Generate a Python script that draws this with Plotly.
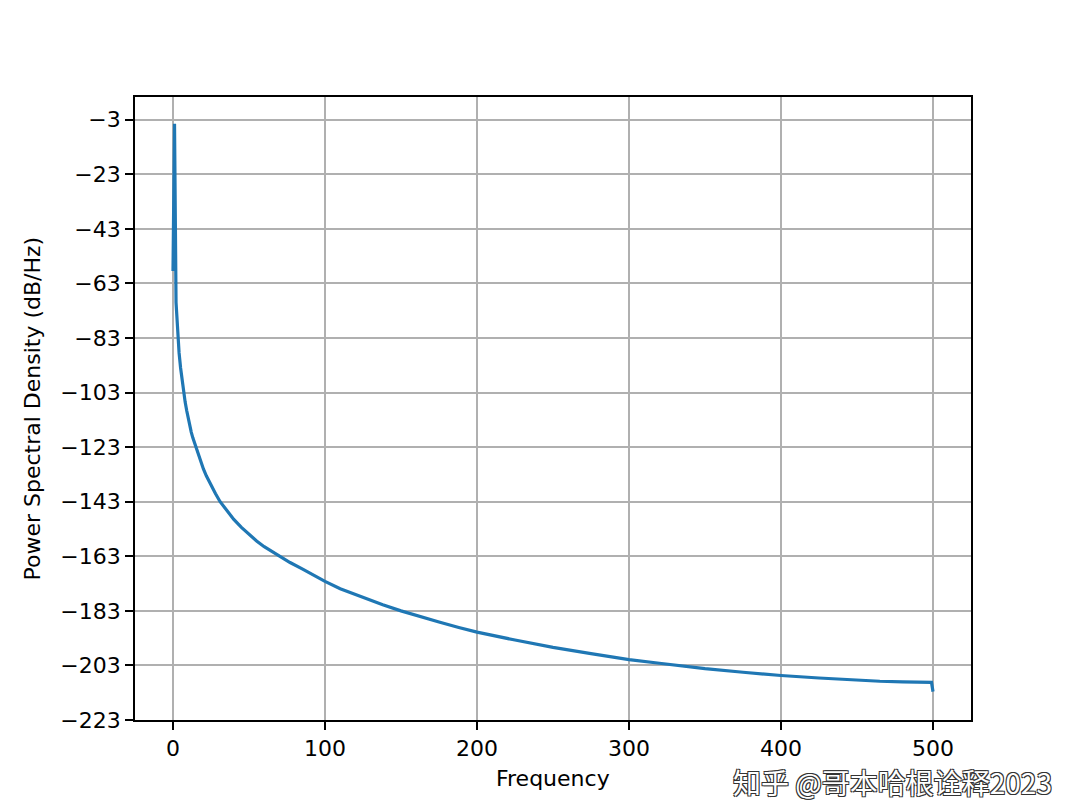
import plotly.graph_objects as go

# Values
frequency = [0, 1, 2, 3, 4, 5, 6, 7, 8, 9, 10, 11, 12, 13, 15, 17, 20, 22, 25, 28, 31,
             35, 40, 45, 50, 55, 60, 65, 70, 77, 85, 92, 100, 110, 118, 125, 138, 150, 163,
             175, 188, 200, 225, 250, 275, 300, 320, 338, 350, 375, 400, 425, 447, 465,
             480, 490, 499, 500]
psd_db = [-58.5, -4.5, -70.0, -82.0, -88.5, -94.0, -99.0, -103.0, -106.5, -109.6, -112.5,
          -115.1, -117.5, -119.5, -123.0, -126.5, -131.0, -133.6, -137.0, -140.1, -143.0,
          -146.1, -149.5, -152.4, -155.0, -157.4, -159.5, -161.3, -163.0, -165.3, -167.6,
          -169.8, -172.2, -174.9, -176.6, -178.1, -180.75, -183.0, -185.2, -187.1, -189.1,
          -190.8, -193.7, -196.4, -198.7, -200.9, -202.2, -203.4, -204.2, -205.5, -206.7,
          -207.6, -208.35, -208.8, -209.05, -209.15, -209.2, -212.6]

x_ticks = [0, 100, 200, 300, 400, 500]
y_ticks = [-223, -203, -183, -163, -143, -123, -103, -83, -63, -43, -23, -3]

x_title = "Frequency"
y_title = "Power Spectral Density (dB/Hz)"
watermark = "知乎 @哥本哈根诠释2023"

FONT = "DejaVu Sans, Liberation Sans, sans-serif"

fig = go.Figure()
fig.add_trace(go.Scatter(
    x=frequency, y=psd_db, mode="lines",
    line=dict(color="#1f77b4", width=3.2),
    hoverinfo="skip", showlegend=False,
))

axis_common = dict(
    showline=True, linecolor="black", linewidth=1.8, mirror=True,
    ticks="outside", ticklen=8, tickwidth=1.8, tickcolor="black",
    showgrid=True, gridcolor="#b0b0b0", gridwidth=1.6,
    zeroline=False,
    tickfont=dict(family=FONT, size=22, color="black"),
)

# page body adds an 8px offset; figure size/margins compensate for it
fig.update_layout(
    width=1064, height=794,
    paper_bgcolor="white", plot_bgcolor="white",
    margin=dict(l=127, r=101, t=89, b=82, autoexpand=False),
    xaxis=dict(range=[-25, 525], tickvals=x_ticks, **axis_common),
    yaxis=dict(range=[-223, 5.3], tickvals=y_ticks, **axis_common),
    annotations=[
        dict(text=x_title, xref="paper", yref="paper", x=0.5, y=-0.0947,
             xanchor="center", yanchor="middle", showarrow=False,
             font=dict(family=FONT, size=22, color="black")),
        dict(text=y_title, xref="paper", yref="paper", x=-0.1232, y=0.5,
             xanchor="center", yanchor="middle", showarrow=False, textangle=-90,
             font=dict(family=FONT, size=22, color="black")),
        dict(text=watermark, xref="paper", yref="paper", x=1.0995, y=-0.0995,
             xanchor="right", yanchor="middle", showarrow=False,
             font=dict(family="Noto Sans CJK SC", size=28, color="white",
                       shadow="-1px -1px 0 #333, 1px -1px 0 #333, -1px 1px 0 #333, 1px 1px 0 #333")),
    ],
)

fig.write_html("out.html")
